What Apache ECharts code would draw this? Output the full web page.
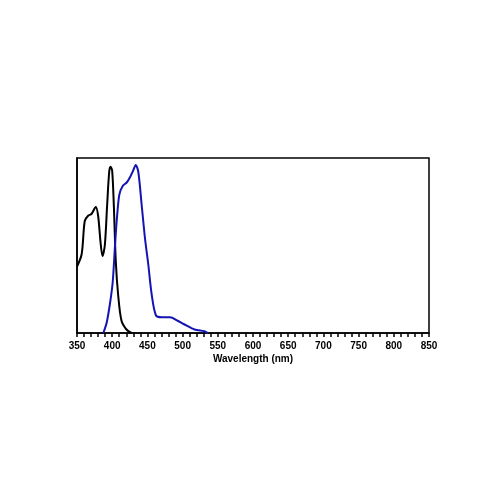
<!DOCTYPE html>
<html><head><meta charset="utf-8">
<script src="https://cdn.jsdelivr.net/npm/echarts@6/dist/echarts.min.js"></script>
<style>html,body{margin:0;padding:0;background:#fff}#c{width:500px;height:500px}</style>
</head><body><div id="c"></div>
<script>
const blackX = [350,356.6,361,365.8,370.5,376.7,380,383.4,386.2,389.5,392.8,395.7,397.6,399.9,402.3,405.1,408.4,413.2,420.3,427.4];
const blackY = [0.38,0.45,0.64,0.67,0.68,0.72,0.67,0.52,0.44,0.50,0.73,0.92,0.95,0.93,0.73,0.41,0.22,0.07,0.02,0];
const blueX = [387.4,392.2,396.9,400.7,404,406.4,410.1,414.9,420.6,425.3,430,433.4,437.1,441.9,446.6,451.3,456.1,462.2,470.3,482.1,493,502,517,531,536];
const blueY = [0,0.06,0.17,0.29,0.50,0.64,0.79,0.84,0.86,0.89,0.93,0.96,0.92,0.73,0.54,0.39,0.22,0.10,0.09,0.09,0.07,0.05,0.02,0.01,0];
const xTicks = [350,400,450,500,550,600,650,700,750,800,850];

const chart = echarts.init(document.getElementById('c'));
chart.setOption({
  animation:false,
  grid:{left:77,right:71,top:158,bottom:167,show:true,borderColor:'#000',borderWidth:1.5,backgroundColor:'#fff'},
  xAxis:{type:'value',min:xTicks[0],max:xTicks[xTicks.length-1],interval:50,
    name:'Wavelength (nm)',nameLocation:'middle',nameGap:21,
    nameTextStyle:{fontFamily:'Liberation Sans',fontSize:10,fontWeight:'bold',color:'#000'},
    axisLine:{lineStyle:{color:'#000',width:1.5}},
    axisTick:{show:true,length:4,lineStyle:{color:'#000',width:1.5}},
    minorTick:{show:true,splitNumber:5,length:4,lineStyle:{color:'#000',width:1.5}},
    splitLine:{show:false},
    axisLabel:{fontFamily:'Liberation Sans',fontSize:10,fontWeight:'bold',color:'#000',margin:8}},
  yAxis:{type:'value',min:0,max:1,axisLine:{show:true,lineStyle:{color:'#000',width:1.5}},
    axisTick:{show:false},axisLabel:{show:false},splitLine:{show:false}},
  series:[
    {type:'line',data:blackX.map((x,i)=>[x,blackY[i]]),smooth:0.3,showSymbol:false,
     lineStyle:{color:'#000',width:2}},
    {type:'line',data:blueX.map((x,i)=>[x,blueY[i]]),smooth:0.3,showSymbol:false,
     lineStyle:{color:'#1414b4',width:2}}
  ]
});
</script></body></html>
